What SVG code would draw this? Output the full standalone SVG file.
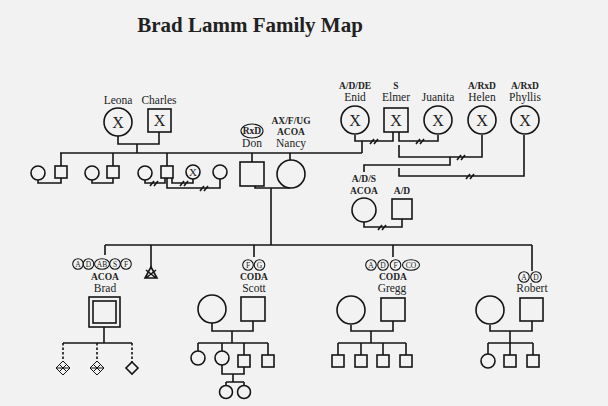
<svg xmlns="http://www.w3.org/2000/svg" width="608" height="406" viewBox="0 0 608 406">
<style>
.s{fill:none;stroke:#151515;stroke-width:1.6}
.c{fill:none;stroke:#151515;stroke-width:1.1}
.h{fill:none;stroke:#151515;stroke-width:1}
.d{fill:none;stroke:#151515;stroke-width:1.6;stroke-dasharray:2.5 2}
text{font-family:"Liberation Serif","DejaVu Serif",serif;fill:#222;text-anchor:middle}
.n{font-size:11.5px}
.b{font-size:9.5px;font-weight:bold}
.t{font-size:21px;font-weight:bold}
.x{font-size:16px}
.m{font-size:7.5px}
</style>
<rect width="608" height="406" fill="#f2f2f2"/>
<text class="t" x="250" y="32">Brad Lamm Family Map</text>

<g id="connectors" class="s">
<path d="M118 136V144H159V132M137 144V153"/>
<path d="M60 153H362"/>
<path d="M61 153V166M113 153V166M167 153V166M252 153V162M290 153V160"/>
<path d="M38 180V183H61V178M92 180V183H113V178M145 180V183H165V178"/>
<path d="M150 186l4-5M154 186l4-5"/>
<path d="M172 178V183H193V179M180 186l4-5M184 186l4-5"/>
<path d="M167 178V188H220V179"/>
<path d="M200 191l4-5M204 191l4-5"/>
<path d="M355 135V141H393V132M362 141V153"/>
<path d="M370 144l4-5M374 144l4-5"/>
<path d="M399 132V141H438V135M416 144l4-5M420 144l4-5"/>
<path d="M399 145V157H482V135M457 160l4-5M461 160l4-5"/>
<path d="M450 157V165H364V172"/>
<path d="M399 168V176H524V135M466 179l4-5M470 179l4-5"/>
<path d="M364 222V227H402V219M378 230l4-5M382 230l4-5"/>
<path d="M255 186V188H290V188M271 188V245M105 245H532"/>
<path d="M105 245V255M151 245V267M254 245V257M393 245V257M532 245V271"/>
<path d="M104 327V343M63 343H132"/>
<path class="d" d="M63 343V362M97 343V362M132 343V362"/>
<path d="M212 323V331H253V321M232 331V343M198 343H268M198 343V351M222 343V351M244 343V355M268 343V355"/>
<path d="M222 365V374H244V367M233 374V382M226 382H244M226 382V385M244 382V385"/>
<path d="M351 325V331H393V321M371 331V343M338 343H406M338 343V355M361 343V355M383 343V355M406 343V355"/>
<path d="M490 325V331H532V321M510 331V343M488 343H533M488 343V354M510 343V355M533 343V355"/>
</g>

<g id="leona"><text class="n" x="118" y="104">Leona</text><circle class="s" cx="118" cy="122" r="14"/><text class="x" x="118" y="128">X</text></g>
<g id="charles"><text class="n" x="159" y="104">Charles</text><rect class="s" x="148" y="109" width="23" height="23"/><text class="x" x="159.5" y="126">X</text></g>
<g id="sib1"><circle class="s" cx="38" cy="173" r="7"/><rect class="s" x="55" y="166" width="12" height="12"/></g>
<g id="sib2"><circle class="s" cx="92" cy="173" r="7"/><rect class="s" x="107" y="166" width="12" height="12"/></g>
<g id="sib3"><circle class="s" cx="145" cy="173" r="7"/><rect class="s" x="161" y="166" width="12" height="12"/><circle class="s" cx="193" cy="172" r="7"/><text x="193" y="176" style="font-size:11px">X</text><circle class="s" cx="220" cy="172" r="7"/></g>
<g id="don"><ellipse class="c" cx="252" cy="131" rx="11" ry="7"/><text class="b" x="252" y="134">RxD</text><text class="n" x="252" y="147">Don</text><rect class="s" x="240" y="162" width="24" height="24"/></g>
<g id="nancy"><text class="b" x="291" y="124">AX/F/UG</text><text class="b" x="291" y="135">ACOA</text><text class="n" x="291" y="147">Nancy</text><circle class="s" cx="291" cy="174" r="14"/></g>
<g id="enid"><text class="b" x="355" y="89">A/D/DE</text><text class="n" x="355" y="101">Enid</text><circle class="s" cx="355" cy="120" r="14"/><text class="x" x="355" y="126">X</text></g>
<g id="elmer"><text class="b" x="396" y="89">S</text><text class="n" x="396" y="101">Elmer</text><rect class="s" x="384" y="108" width="24" height="24"/><text class="x" x="396" y="126">X</text></g>
<g id="juanita"><text class="n" x="438" y="101">Juanita</text><circle class="s" cx="438" cy="120" r="14"/><text class="x" x="438" y="126">X</text></g>
<g id="helen"><text class="b" x="482" y="89">A/RxD</text><text class="n" x="482" y="101">Helen</text><circle class="s" cx="482" cy="120" r="14"/><text class="x" x="482" y="126">X</text></g>
<g id="phyllis"><text class="b" x="525" y="89">A/RxD</text><text class="n" x="525" y="101">Phyllis</text><circle class="s" cx="525" cy="120" r="14"/><text class="x" x="525" y="126">X</text></g>
<g id="halfsis"><text class="b" x="364" y="182">A/D/S</text><text class="b" x="364" y="194">ACOA</text><circle class="s" cx="364" cy="210" r="12"/><text class="b" x="402" y="194">A/D</text><rect class="s" x="392" y="199" width="20" height="20"/></g>

<g id="brad">
<ellipse class="c" cx="78" cy="264" rx="5.3" ry="5.3"/><text class="m" x="78" y="267">A</text>
<ellipse class="c" cx="88.5" cy="264" rx="5.3" ry="5.3"/><text class="m" x="88.5" y="267">D</text>
<ellipse class="c" cx="102" cy="264" rx="7.5" ry="5.3"/><text class="m" x="102" y="267">AB</text>
<ellipse class="c" cx="115" cy="264" rx="5.3" ry="5.3"/><text class="m" x="115" y="267">S</text>
<ellipse class="c" cx="126" cy="264" rx="5.3" ry="5.3"/><text class="m" x="126" y="267">F</text>
<text class="b" x="105" y="280">ACOA</text><text class="n" x="105" y="292">Brad</text>
<rect class="s" x="89" y="297" width="31" height="30"/><rect class="s" x="93" y="301" width="23" height="22"/>
</g>
<g id="brad-kids">
<path class="h" d="M63 361l7 7-7 7-7-7zM59 364l8 8M67 364l-8 8M56 368h14"/>
<path class="h" d="M97 361l7 7-7 7-7-7zM93 364l8 8M101 364l-8 8M90 368h14"/>
<path class="s" d="M132 362l6 6-6 6-6-6z"/>
</g>
<g id="miscarriage" class="s"><path d="M151 267l6 11h-12zM146 270l10 8M156 270l-10 8"/></g>
<g id="scott">
<circle class="c" cx="248" cy="265" r="5.3"/><text class="m" x="248" y="268">F</text>
<circle class="c" cx="259.5" cy="265" r="5.3"/><text class="m" x="259.5" y="268">G</text>
<text class="b" x="254" y="280">CODA</text><text class="n" x="254" y="292">Scott</text>
<circle class="s" cx="212" cy="309" r="14"/><rect class="s" x="241" y="297" width="24" height="24"/>
<circle class="s" cx="198" cy="358" r="7"/><circle class="s" cx="222" cy="358" r="7"/>
<rect class="s" x="238" y="355" width="12" height="12"/><rect class="s" x="262" y="355" width="12" height="12"/>
<circle class="s" cx="226" cy="392" r="6.5"/><circle class="s" cx="244" cy="392" r="6.5"/>
</g>
<g id="gregg">
<circle class="c" cx="371" cy="265" r="5.3"/><text class="m" x="371" y="268">A</text>
<circle class="c" cx="383" cy="265" r="5.3"/><text class="m" x="383" y="268">D</text>
<circle class="c" cx="395.5" cy="265" r="5.3"/><text class="m" x="395.5" y="268">F</text>
<ellipse class="c" cx="411" cy="265" rx="8.5" ry="5.3"/><text class="m" x="411" y="268">CO</text>
<text class="b" x="393" y="280">CODA</text><text class="n" x="392" y="292">Gregg</text>
<circle class="s" cx="351" cy="310" r="14"/><rect class="s" x="381" y="298" width="24" height="23"/>
<rect class="s" x="332" y="355" width="12" height="12"/><rect class="s" x="355" y="355" width="12" height="12"/>
<rect class="s" x="377" y="355" width="12" height="12"/><rect class="s" x="400" y="355" width="12" height="12"/>
</g>
<g id="robert">
<circle class="c" cx="524" cy="277" r="5.3"/><text class="m" x="524" y="280">A</text>
<circle class="c" cx="536" cy="277" r="5.3"/><text class="m" x="536" y="280">D</text>
<text class="n" x="532" y="292">Robert</text>
<circle class="s" cx="490" cy="310" r="14"/><rect class="s" x="520" y="298" width="23" height="23"/>
<circle class="s" cx="488" cy="361" r="7"/>
<rect class="s" x="504" y="355" width="12" height="12"/><rect class="s" x="527" y="355" width="12" height="12"/>
</g>
</svg>
